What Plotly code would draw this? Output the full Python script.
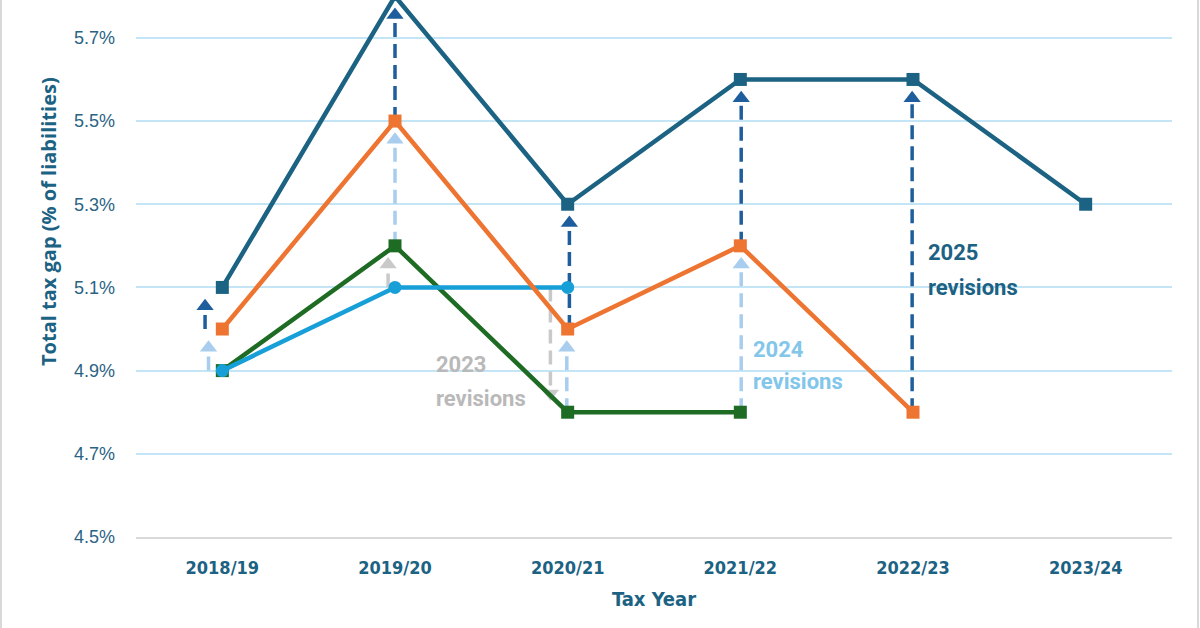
import plotly.graph_objects as go

years = ["2018/19", "2019/20", "2020/21", "2021/22", "2022/23", "2023/24"]

# Published total tax gap estimates (% of liabilities) by publication year
gap_2022 = [4.9, 5.1, 5.1]                    # light blue circles
gap_2023 = [4.9, 5.2, 4.8, 4.8]               # green
gap_2024 = [5.0, 5.5, 5.0, 5.2, 4.8]          # orange
gap_2025 = [5.1, 5.8, 5.3, 5.6, 5.6, 5.3]     # dark blue

# Revision arrows: (year index, from value, to value)
rev_2023 = [(1, 5.1, 5.2), (2, 5.1, 4.8)]
rev_2024 = [(0, 4.9, 5.0), (1, 5.2, 5.5), (2, 4.8, 5.0), (3, 4.8, 5.2)]
rev_2025 = [(0, 5.0, 5.1), (1, 5.5, 5.8), (2, 5.0, 5.3), (3, 5.2, 5.6), (4, 4.8, 5.6)]

y_ticks = [4.5, 4.7, 4.9, 5.1, 5.3, 5.5, 5.7]

C_DARK = "#1b6283"
C_ORANGE = "#ee7431"
C_GREEN = "#1e6b24"
C_LIGHT = "#179fd8"
A_DARK = "#1f5e9c"
A_LIGHT = "#a8cdee"
A_GRAY = "#c9c9c9"

fig = go.Figure()

# arrow x offsets (style only, in category units)
off_2023 = {1: -0.04, 2: -0.10}
off_2024 = {0: -0.08, 1: 0.0, 2: -0.005, 3: 0.005}
off_2025 = {0: -0.10, 1: 0.0, 2: 0.01, 3: 0.005, 4: -0.005}


def add_arrows(revs, offs, color):
    for i, a, b in revs:
        x = i + offs[i]
        d = 1 if b > a else -1
        tip = b - d * 0.045
        fig.add_trace(go.Scatter(
            x=[x, x], y=[a, tip], mode="lines",
            line=dict(color=color, width=3.5, dash="14px,7px"),
            hoverinfo="skip", showlegend=False, cliponaxis=False))
        fig.add_trace(go.Scatter(
            x=[x], y=[tip], mode="markers",
            marker=dict(symbol="triangle-up" if d > 0 else "triangle-down",
                        size=15, color=color),
            hoverinfo="skip", showlegend=False, cliponaxis=False))


add_arrows(rev_2023, off_2023, A_GRAY)
add_arrows(rev_2024, off_2024, A_LIGHT)
add_arrows(rev_2025, off_2025, A_DARK)

fig.add_trace(go.Scatter(x=list(range(len(gap_2023))), y=gap_2023, mode="lines+markers",
                         line=dict(color=C_GREEN, width=4.5),
                         marker=dict(symbol="square", size=13, color=C_GREEN),
                         showlegend=False, cliponaxis=False))
fig.add_trace(go.Scatter(x=list(range(len(gap_2022))), y=gap_2022, mode="lines+markers",
                         line=dict(color=C_LIGHT, width=4.5),
                         marker=dict(symbol="circle", size=13, color=C_LIGHT),
                         showlegend=False, cliponaxis=False))
fig.add_trace(go.Scatter(x=list(range(len(gap_2024))), y=gap_2024, mode="lines+markers",
                         line=dict(color=C_ORANGE, width=4.5),
                         marker=dict(symbol="square", size=13, color=C_ORANGE),
                         showlegend=False, cliponaxis=False))
fig.add_trace(go.Scatter(x=list(range(len(gap_2025))), y=gap_2025, mode="lines+markers",
                         line=dict(color=C_DARK, width=4.5),
                         marker=dict(symbol="square", size=13, color=C_DARK),
                         showlegend=False, cliponaxis=False))

lab_font = "Roboto, Liberation Sans, Arial, sans-serif"
labels = [
    (1.238, 4.914, 4.832, "2023", "revisions", "#b9b9b9"),
    (3.073, 4.950, 4.873, "2024", "revisions", "#82c6ea"),
    (4.086, 5.183, 5.101, "2025", "revisions", C_DARK),
]
for x, y1, y2, t1, t2, col in labels:
    for yy, tt in ((y1, t1), (y2, t2)):
        fig.add_annotation(x=x, y=yy, xref="x", yref="y", text="<b>" + tt + "</b>",
                           showarrow=False, xanchor="left", yanchor="middle", align="left",
                           xshift=-2, font=dict(family=lab_font, size=22, color=col))

# y-axis title placed as a rotated annotation (sits above the axis centre in the original)
fig.add_annotation(x=(48 - 136) / 1036, y=1 - 222 / 537, xref="paper", yref="paper",
                   text="<b>Total tax gap (% of liabilities)</b>", textangle=-90,
                   showarrow=False, xanchor="center", yanchor="middle",
                   font=dict(family="Open Sans, Roboto, sans-serif", size=20, color=C_DARK))

cond = "Liberation Sans Narrow, DejaVu Sans Condensed, Roboto, sans-serif"
fig.update_xaxes(
    range=[-0.5, 5.5], tickmode="array", tickvals=list(range(len(years))),
    ticktext=["<b>" + y + "</b>" for y in years],
    tickfont=dict(family=cond, size=18, color=C_DARK),
    showgrid=False, zeroline=False, showline=True, linecolor="#d9d9d9", linewidth=2,
    ticks="", ticklabelstandoff=13,
    title=dict(text="<b>Tax Year</b>", font=dict(family=cond, size=20, color=C_DARK), standoff=15),
)
fig.update_yaxes(
    range=[4.5, 5.791], tickmode="array", tickvals=y_ticks,
    ticktext=[f"{v:.1f}%" for v in y_ticks],
    tickfont=dict(family="Liberation Sans, Arial, sans-serif", size=18, color="#2a6384"),
    showgrid=True, gridcolor="#c4e5f5", gridwidth=2, zeroline=False, ticks="",
    ticklabelstandoff=20,
)

# thin grey page borders
for px in (1, 1198):
    xp = (px - 136) / 1036
    fig.add_shape(type="line", xref="paper", yref="paper", x0=xp, x1=xp, y0=-0.2, y1=1.0,
                  line=dict(color="#d9d9d9", width=2))

fig.update_layout(
    width=1200, height=628,
    margin=dict(l=136, r=28, t=0, b=91),
    plot_bgcolor="white", paper_bgcolor="white",
    showlegend=False,
)

fig.write_html("out.html")
